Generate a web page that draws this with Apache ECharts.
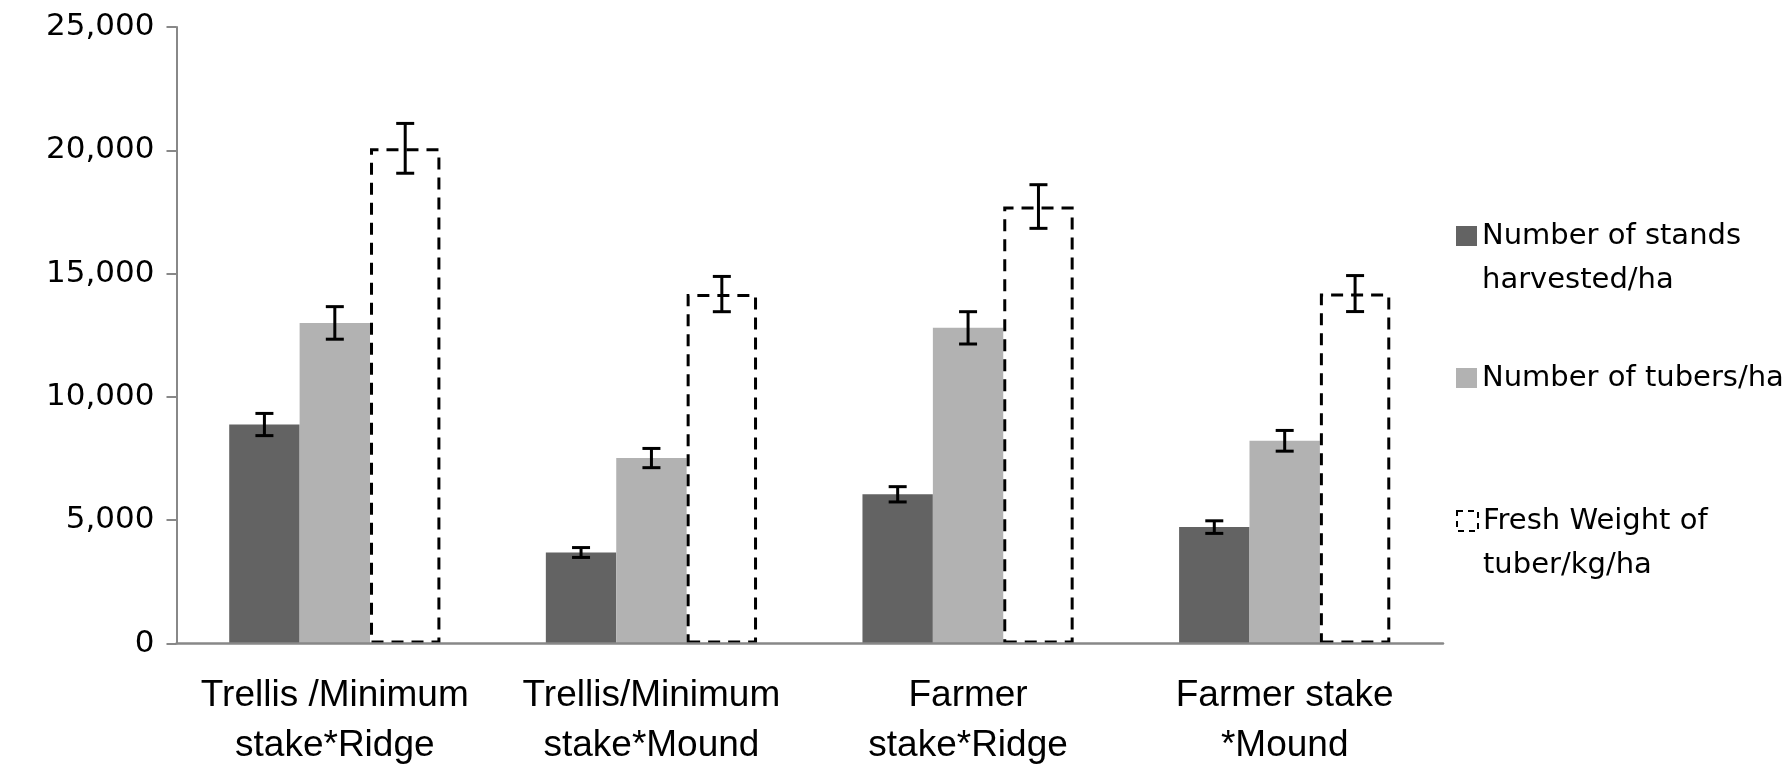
<!DOCTYPE html>
<html>
<head>
<meta charset="utf-8">
<script src="https://cdn.jsdelivr.net/npm/echarts@6/dist/echarts.min.js"></script>
<style>
  html, body { margin: 0; padding: 0; background: #fff; }
  #chart { width: 1786px; height: 783px; }
</style>
</head>
<body>
<div id="chart"></div>
<script>
// treatments
var categories = ['Trellis /Minimum\nstake*Ridge', 'Trellis/Minimum\nstake*Mound', 'Farmer\nstake*Ridge', 'Farmer stake\n*Mound'];
var seriesNames = ['Number of stands harvested/ha', 'Number of tubers/ha', 'Fresh Weight of tuber/kg/ha'];

// means
var stands = [8880, 3690, 6050, 4720];
var tubers = [13000, 7520, 12800, 8220];
var freshWeight = [20080, 14170, 17720, 14190];

// error bar half-widths
var standsErr = [450, 200, 310, 255];
var tubersErr = [660, 390, 655, 420];
var freshErr = [1010, 715, 885, 730];

var yTicks = [0, 5000, 10000, 15000, 20000, 25000];

var axisGrey = '#888888';
var gapRatio = 0.333;

// error bar data: [category, low, high, series index]
var errData = [];
[[stands, standsErr], [tubers, tubersErr], [freshWeight, freshErr]].forEach(function (pair, s) {
    pair[0].forEach(function (v, i) {
        errData.push([i, v - pair[1][i], v + pair[1][i], s]);
    });
});

function renderErr(params, api) {
    var band = api.size([1, 0])[0];
    var barW = band * (1 - gapRatio) / 3;
    var cat = api.value(0);
    var lo = api.coord([cat, api.value(1)]);
    var hi = api.coord([cat, api.value(2)]);
    var x = lo[0] + (api.value(3) - 1) * barW;
    var cap = 9;
    var st = { stroke: '#000', lineWidth: 3 };
    return {
        type: 'group',
        children: [
            { type: 'line', shape: { x1: x, y1: lo[1], x2: x, y2: hi[1] }, style: st },
            { type: 'line', shape: { x1: x - cap, y1: lo[1], x2: x + cap, y2: lo[1] }, style: st },
            { type: 'line', shape: { x1: x - cap, y1: hi[1], x2: x + cap, y2: hi[1] }, style: st }
        ]
    };
}

var legendFont = { fontFamily: 'DejaVu Sans', fontSize: 29, color: '#000', lineHeight: 44 };

var chart = echarts.init(document.getElementById('chart'));
chart.setOption({
    animation: false,
    backgroundColor: '#fff',
    grid: { left: 176.5, right: 343, top: 27, bottom: 139.5 },
    legend: [
        {
            // blank first line keeps the icon level with the first text line
            data: [seriesNames[0]], left: 1456, top: 170, padding: 0,
            itemWidth: 21, itemHeight: 20, icon: 'rect',
            formatter: function () { return '\nNumber of stands\nharvested/ha'; },
            textStyle: legendFont
        },
        {
            data: [seriesNames[1]], left: 1456, top: 356, padding: 0,
            itemWidth: 21, itemHeight: 20, icon: 'rect',
            textStyle: legendFont
        },
        {
            data: [seriesNames[2]], left: 1456, top: 455, padding: 0,
            itemWidth: 21, itemHeight: 20, icon: 'rect',
            itemStyle: { color: '#fff', borderColor: '#000', borderWidth: 2, borderType: [6, 5] },
            formatter: function () { return '\nFresh Weight of\ntuber/kg/ha'; },
            textStyle: legendFont
        }
    ],
    xAxis: {
        type: 'category',
        data: categories,
        z: 5,
        axisLine: { lineStyle: { color: axisGrey, width: 2.5 } },
        axisTick: { length: 11, lineStyle: { color: axisGrey, width: 2 } },
        axisLabel: {
            margin: 27,
            fontFamily: 'Liberation Sans',
            fontSize: 37,
            lineHeight: 50,
            color: '#000',
            interval: 0
        }
    },
    yAxis: {
        type: 'value',
        min: yTicks[0],
        max: yTicks[yTicks.length - 1],
        interval: yTicks[1] - yTicks[0],
        splitLine: { show: false },
        axisLine: { show: true, lineStyle: { color: axisGrey, width: 2 } },
        axisTick: { show: true, length: 10, lineStyle: { color: axisGrey, width: 2 } },
        axisLabel: {
            margin: 22,
            fontFamily: 'DejaVu Sans',
            fontSize: 31,
            color: '#000',
            formatter: function (v) { return v.toLocaleString('en-US'); }
        }
    },
    series: [
        {
            name: seriesNames[0], type: 'bar', data: stands,
            barGap: 0, barCategoryGap: (gapRatio * 100) + '%',
            itemStyle: { color: '#636363' }
        },
        {
            name: seriesNames[1], type: 'bar', data: tubers,
            barGap: 0, barCategoryGap: (gapRatio * 100) + '%',
            itemStyle: { color: '#b2b2b2' }
        },
        {
            name: seriesNames[2], type: 'bar', data: freshWeight,
            barGap: 0, barCategoryGap: (gapRatio * 100) + '%',
            itemStyle: { color: '#ffffff', borderColor: '#000', borderWidth: 3, borderType: [12, 8] }
        },
        {
            type: 'custom',
            renderItem: renderErr,
            data: errData,
            encode: { x: 0, y: [1, 2] },
            z: 10,
            silent: true
        }
    ]
});
</script>
</body>
</html>
